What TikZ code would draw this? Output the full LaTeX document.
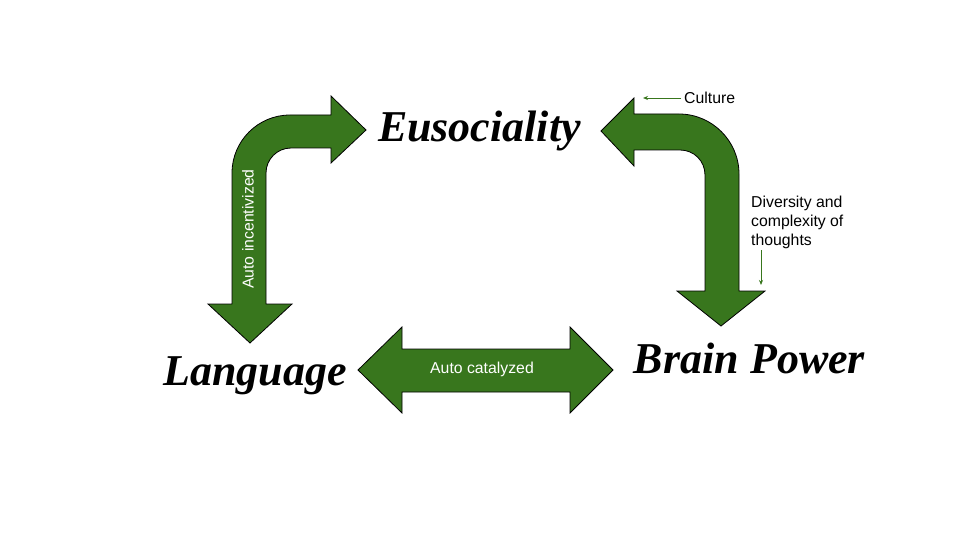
\documentclass[tikz,border=0pt]{standalone}
\usepackage{fontspec}
\setmainfont{Liberation Serif}
\newfontfamily\labelfont{Liberation Sans}
\usetikzlibrary{arrows.meta}
\definecolor{arrgreen}{HTML}{38761D}
\begin{document}
\begin{tikzpicture}[x=1pt,y=-1pt,
  bigarrow/.style={fill=arrgreen,draw=black,line width=0.8pt,line join=miter},
  bigword/.style={font=\fontsize{44}{50}\selectfont\bfseries\itshape,anchor=base,inner sep=0pt},
  smalltext/.style={font=\labelfont\fontsize{15.8}{19}\selectfont,inner sep=0pt},
  thinarrow/.style={draw=arrgreen,line width=0.8pt,-{Stealth[length=5pt,width=4pt]}}]
\path[use as bounding box,fill=white] (0,0) rectangle (960,540);

% words
\node[bigword] (eus) at (479.5,142) {Eusociality};
\node[bigword] (lang) at (255,385) {Language};
\node[bigword] (brain) at (749.5,373) {Brain Power};

% left bent arrow (Eusociality <-> Language)
\path[bigarrow] (250,343) -- (292,304) -- (266,304) -- (266,173)
  .. controls (266,159.2) and (277.2,148) .. (291,148) -- (331,148) -- (331,163)
  -- (366,130) -- (331,96) -- (331,115) -- (290,115)
  .. controls (258,115) and (232,141) .. (232,173) -- (232,304) -- (208,304) -- cycle;
\node[smalltext,text=white,rotate=90] (inc) at (248,229) {Auto incentivized};

% right bent arrow
\path[bigarrow] (601,131) -- (634,98) -- (634,114) -- (679,114)
  .. controls (712,114) and (739,141) .. (739,174) -- (739,291) -- (765,291)
  -- (721,326) -- (677,291) -- (705,291) -- (705,175)
  .. controls (705,161) and (694,150) .. (680,150) -- (634,150) -- (634,166) -- cycle;

% double arrow
\path[bigarrow] (358,370) -- (402,327) -- (402,349) -- (570,349) -- (570,327)
  -- (613,370) -- (570,413) -- (570,392) -- (402,392) -- (402,413) -- cycle;
\node[smalltext,text=white] (cat) at (482,369) {Auto catalyzed};

% annotations
\node[smalltext,anchor=west] (cult) at (684,98) {Culture};
\coordinate (culttip) at (643,98);
\draw[thinarrow] (cult.west) ++(-3,0) -- (culttip);

\node[smalltext,anchor=north west,align=left] (div) at (751,196) {Diversity and\\complexity of\\thoughts};
\coordinate (divstart) at (761,250);
\coordinate (divtip) at (761,285);
\draw[thinarrow] (divstart) -- (divtip);
\end{tikzpicture}
\end{document}
